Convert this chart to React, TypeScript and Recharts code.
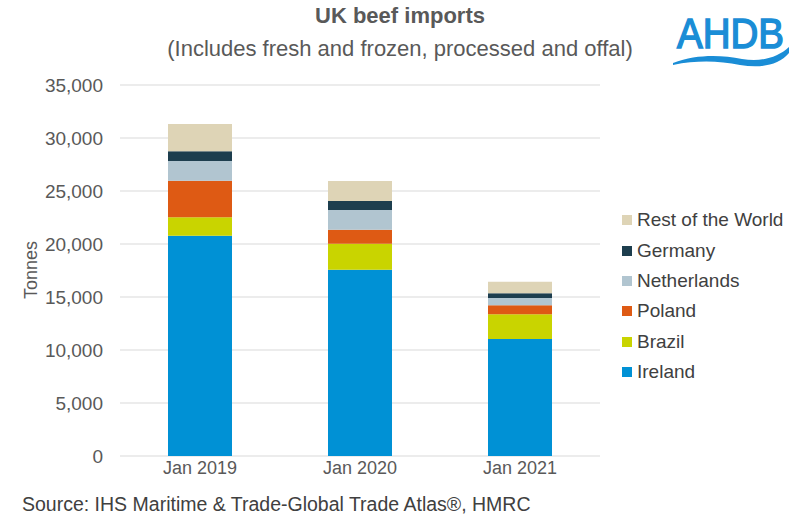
import React from "react";
import { BarChart, Bar, XAxis, YAxis, CartesianGrid } from "recharts";

const categories = ["Jan 2019", "Jan 2020", "Jan 2021"];
const ireland = [20780, 17580, 11040];
const brazil = [1740, 2450, 2330];
const poland = [3450, 1320, 850];
const netherlands = [1860, 1860, 690];
const germany = [920, 850, 440];
const restOfWorld = [2570, 1880, 1090];
const yTicks = [0, 5000, 10000, 15000, 20000, 25000, 30000, 35000];

const series = [
  { key: "ireland", name: "Ireland", values: ireland, color: "#0091D5" },
  { key: "brazil", name: "Brazil", values: brazil, color: "#C9D400" },
  { key: "poland", name: "Poland", values: poland, color: "#DE5A14" },
  { key: "netherlands", name: "Netherlands", values: netherlands, color: "#B1C5D0" },
  { key: "germany", name: "Germany", values: germany, color: "#1D3E4E" },
  { key: "rest", name: "Rest of the World", values: restOfWorld, color: "#DED4B6" },
];

const data = categories.map((c, i) => {
  const row: Record<string, any> = { category: c };
  series.forEach((s) => (row[s.key] = s.values[i]));
  return row;
});

const FONT = "'Liberation Sans', Arial, sans-serif";
const GREY = "#595959";

export default function App() {
  return (
    <div style={{ position: "absolute", left: 0, top: 0, width: 800, height: 524, background: "#fff", fontFamily: FONT }}>
      <BarChart
        width={800}
        height={524}
        data={data}
        margin={{ top: 85, right: 200, bottom: 38, left: 40 }}
        barCategoryGap="30%"
      >
        <CartesianGrid vertical={false} stroke="#D9D9D9" />
        <XAxis
          dataKey="category"
          height={30}
          axisLine={false}
          tickLine={false}
          tickSize={0}
          tickMargin={5}
          tick={{ fill: GREY, fontSize: 18, fontFamily: FONT }}
        />
        <YAxis
          width={80}
          domain={[0, 35000]}
          ticks={yTicks}
          axisLine={false}
          tickLine={false}
          tickMargin={11}
          tickFormatter={(v: number) => v.toLocaleString("en-US")}
          tick={{ fill: GREY, fontSize: 19, fontFamily: FONT }}
        />
        {series.map((s) => (
          <Bar key={s.key} dataKey={s.key} name={s.name} stackId="a" fill={s.color} isAnimationActive={false} />
        ))}
      </BarChart>
      <svg width={130} height={75} style={{ position: "absolute", left: 670, top: 0 }} viewBox="670 0 130 75">
        <text
          x={677}
          y={48}
          fontFamily={FONT}
          fontSize={42}
          fill="#1A8DD6"
          stroke="#1A8DD6"
          strokeWidth={1.5}
          textLength={107}
          lengthAdjust="spacingAndGlyphs"
        >
          AHDB
        </text>
        <path
          d="M673,63 C697,54 721,55 742,59 C761,62 777,58 789,47 L789,53 C778,66 760,68 740,65 C719,61 698,60 673,65 Z"
          fill="#1A8DD6"
        />
      </svg>
      <div style={{ position: "absolute", left: 0, top: 0, width: 800, textAlign: "center", color: GREY, fontSize: 22, lineHeight: "31px" }}>
        <div style={{ fontWeight: "bold" }}>UK beef imports</div>
        <div style={{ marginTop: 2 }}>(Includes fresh and frozen, processed and offal)</div>
      </div>
      <div
        style={{
          position: "absolute",
          left: 31,
          top: 270,
          transform: "translate(-50%, -50%) rotate(-90deg)",
          color: GREY,
          fontSize: 18,
          whiteSpace: "nowrap",
        }}
      >
        Tonnes
      </div>
      <div style={{ position: "absolute", left: 622, top: 205 }}>
        {[...series].reverse().map((s) => (
          <div key={s.key} style={{ display: "flex", alignItems: "center", height: 30.4, color: "#404040", fontSize: 19 }}>
            <span style={{ display: "inline-block", width: 10, height: 10, background: s.color, marginRight: 5 }} />
            <span>{s.name}</span>
          </div>
        ))}
      </div>
      <div style={{ position: "absolute", left: 22, top: 493, color: "#404040", fontSize: 19.5, whiteSpace: "nowrap" }}>
        Source: IHS Maritime &amp; Trade-Global Trade Atlas®, HMRC
      </div>
    </div>
  );
}
